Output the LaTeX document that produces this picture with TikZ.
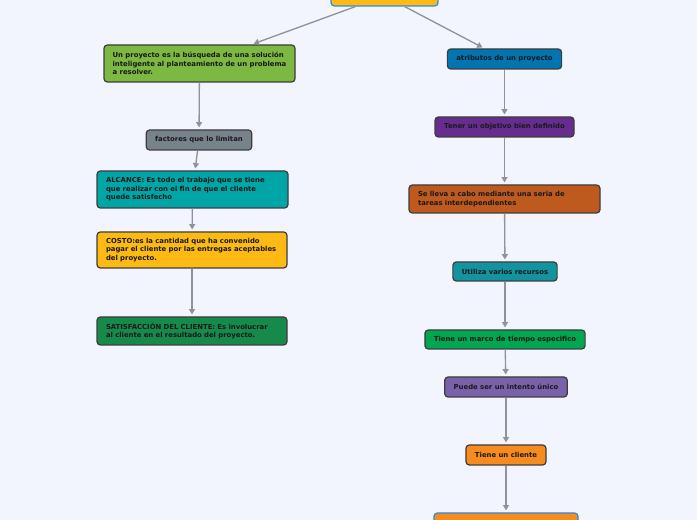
\documentclass[tikz,border=0pt]{standalone}
\usepackage{fontspec}
\setmainfont{DejaVu Sans}
\usetikzlibrary{arrows.meta}

\definecolor{fondo}{RGB}{242,245,254}
\definecolor{linea}{RGB}{143,147,153}
\definecolor{borde}{RGB}{61,61,61}
\definecolor{bordeazul}{RGB}{46,138,230}
\definecolor{verdeA}{RGB}{124,184,66}
\definecolor{pizarra}{RGB}{118,130,140}
\definecolor{turquesa}{RGB}{0,166,166}
\definecolor{amarillo}{RGB}{253,186,19}
\definecolor{verdeB}{RGB}{22,138,75}
\definecolor{azul}{RGB}{0,117,176}
\definecolor{morado}{RGB}{102,45,143}
\definecolor{oxido}{RGB}{191,90,31}
\definecolor{turquesaB}{RGB}{18,147,159}
\definecolor{verdeC}{RGB}{0,166,81}
\definecolor{lavanda}{RGB}{122,98,170}
\definecolor{naranja}{RGB}{246,139,31}

\tikzset{
  idea/.style={draw=borde, line width=0.9pt, rounded corners=2.5pt, text=black!90,
    font=\fontsize{5.15}{6.4}\selectfont\bfseries, inner xsep=6.75pt, inner ysep=0pt,
    align=left, minimum height=15pt},
  raiz/.style={idea, draw=bordeazul},
  enlace/.style={draw=linea, line width=1pt, shorten >=1.5pt,
    -{Triangle[length=4pt,width=4.5pt]}}
}

\begin{document}
\begin{tikzpicture}[x=0.75pt,y=0.75pt,yscale=-1,xscale=1]
%set diagram to 697 x 520
\fill [fondo] (0,0) rectangle (697,520);
\useasboundingbox (0,0) rectangle (697,520);
\clip (0,0) rectangle (697,520);

%Shape: Rectangle [id:top]
\node [raiz, fill=amarillo, minimum width=80.25pt] (tema) at (384.5,-4) {};
%Shape: Rectangle [id:left]
\node [idea, fill=verdeA, inner xsep=2pt, minimum width=143.25pt, minimum height=27.75pt] (busqueda) at (199.5,63.5)
  {Un proyecto es la búsqueda de una solución\\ inteligente al planteamiento de un problema\\ a resolver.};
\node [idea, fill=pizarra, minimum width=78pt] (factores) at (199,140) {factores que lo limitan};
\node [idea, fill=turquesa, text width=129.75pt, minimum height=27.75pt] (alcance) at (192.5,189.5)
  {ALCANCE: Es todo el trabajo que se tiene\\ que realizar con el fin de que el cliente\\ quede satisfecho};
\node [idea, fill=amarillo, text width=129pt, minimum height=27pt] (costo) at (192,250)
  {COSTO:es la cantidad que ha convenido\\ pagar el cliente por las entregas aceptables\\ del proyecto.};
\node [idea, fill=verdeB, text width=129pt, minimum height=21pt] (satisfaccion) at (192,331)
  {SATISFACCIÓN DEL CLIENTE: Es involucrar\\ al cliente en el resultado del proyecto.};
%Shape: Rectangle [id:right]
\node [idea, fill=azul, minimum width=84.75pt] (atributos) at (504.5,59) {atributos de un proyecto};
\node [idea, fill=morado, minimum width=104.25pt] (objetivo) at (504.5,127) {Tener un objetivo bien definido};
\node [idea, fill=oxido, text width=129.75pt, minimum height=21pt] (tareas) at (504.5,199)
  {Se lleva a cabo mediante una seria de\\ tareas interdependientes};
\node [idea, fill=turquesaB, minimum width=78pt, minimum height=14.25pt] (recursos) at (505,271.5) {Utiliza varios recursos};
\node [idea, fill=verdeC, minimum width=120pt, minimum height=14.25pt] (marco) at (505,339.5) {Tiene un marco de tiempo especifico};
\node [idea, fill=lavanda, minimum width=91.5pt] (intento) at (506,387) {Puede ser un intento único};
\node [idea, fill=naranja, minimum width=58.5pt] (cliente) at (506,455) {Tiene un cliente};
\node [raiz, fill=naranja, minimum width=108pt, minimum height=21pt] (final) at (506,527) {};

%Straight Lines
\draw [enlace] (tema) -- (busqueda);
\draw [enlace] (tema) -- (atributos);
\draw [enlace] (busqueda) -- (factores);
\draw [enlace] (factores) -- (alcance);
\draw [enlace] (alcance) -- (costo);
\draw [enlace] (costo) -- (satisfaccion);
\draw [enlace] (atributos) -- (objetivo);
\draw [enlace] (objetivo) -- (tareas);
\draw [enlace] (tareas) -- (recursos);
\draw [enlace] (recursos) -- (marco);
\draw [enlace] (marco) -- (intento);
\draw [enlace] (intento) -- (cliente);
\draw [enlace] (cliente) -- (final);

\end{tikzpicture}
\end{document}
